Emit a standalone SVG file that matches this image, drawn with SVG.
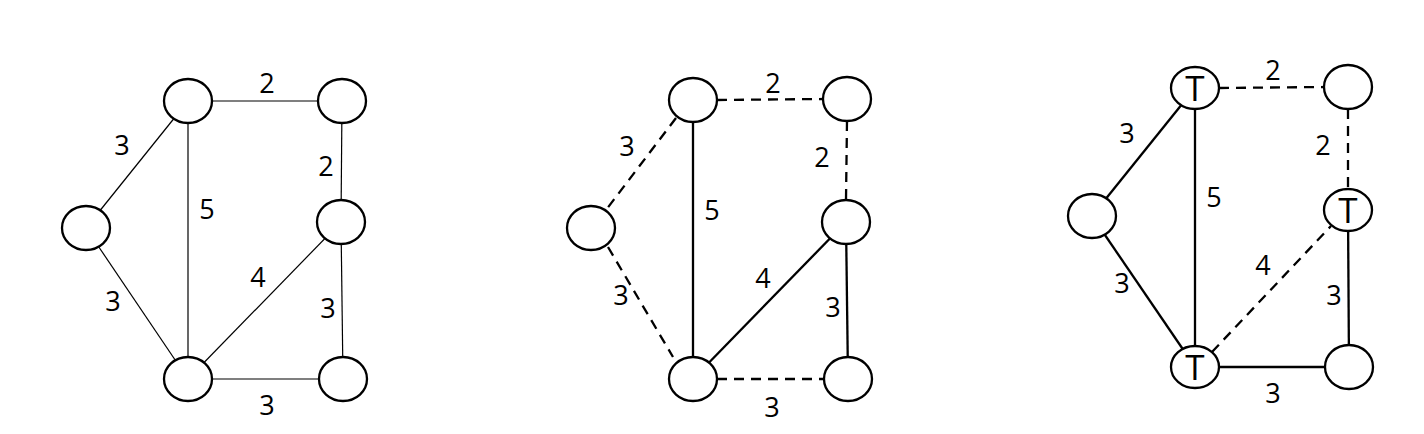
<svg xmlns="http://www.w3.org/2000/svg" width="1424" height="434" viewBox="0 0 1424 434">
<style>
.n{fill:#fff;stroke:#000;stroke-width:2.3}
.e1{stroke:#000;stroke-width:1.2;fill:none}
.e{stroke:#000;stroke-width:2.3;fill:none}
.d{stroke:#000;stroke-width:2.3;fill:none;stroke-dasharray:10,7}
.l{font-family:"Open Sans","Liberation Sans",sans-serif;font-size:27px;fill:#000;text-anchor:middle}
.t{font-family:"Open Sans","Liberation Sans",sans-serif;font-size:35px;fill:#000;text-anchor:middle}
</style>
<rect width="1424" height="434" fill="#fff"/>
<g id="connectors">
<line class="e1" x1="188" y1="101" x2="342" y2="101"/>
<line class="e1" x1="86" y1="228" x2="188" y2="101"/>
<line class="e1" x1="86" y1="228" x2="188" y2="379"/>
<line class="e1" x1="188" y1="101" x2="188" y2="379"/>
<line class="e1" x1="188" y1="379" x2="341" y2="222"/>
<line class="e1" x1="342" y1="101" x2="341" y2="222"/>
<line class="e1" x1="341" y1="222" x2="343" y2="379"/>
<line class="e1" x1="188" y1="379" x2="343" y2="379"/>
<line class="d" x1="717" y1="100" x2="823" y2="99"/>
<line class="d" x1="676" y1="118" x2="606" y2="210"/>
<line class="d" x1="608" y1="247" x2="673" y2="357"/>
<line class="e" x1="693" y1="100" x2="693" y2="379"/>
<line class="e" x1="693" y1="379" x2="846" y2="222"/>
<line class="d" x1="847" y1="121" x2="846" y2="200"/>
<line class="e" x1="846" y1="222" x2="848" y2="379"/>
<line class="d" x1="717" y1="379" x2="824" y2="379"/>
<line class="d" x1="1219" y1="88" x2="1324" y2="87"/>
<line class="e" x1="1092" y1="216" x2="1195" y2="88"/>
<line class="e" x1="1092" y1="216" x2="1195" y2="367"/>
<line class="e" x1="1195" y1="88" x2="1195" y2="367"/>
<line class="d" x1="1212" y1="352" x2="1331" y2="226"/>
<line class="d" x1="1348" y1="109" x2="1348" y2="189"/>
<line class="e" x1="1348" y1="210" x2="1349" y2="367"/>
<line class="e" x1="1195" y1="367" x2="1349" y2="367"/>
</g>
<g id="labels1">
<text class="l" x="267" y="93">2</text>
<text class="l" x="122" y="155">3</text>
<text class="l" x="326" y="176">2</text>
<text class="l" x="207" y="219">5</text>
<text class="l" x="258" y="287">4</text>
<text class="l" x="113" y="311">3</text>
<text class="l" x="328" y="318">3</text>
<text class="l" x="267" y="415">3</text>
</g>
<g id="labels2">
<text class="l" x="773" y="93">2</text>
<text class="l" x="627" y="156">3</text>
<text class="l" x="822" y="167">2</text>
<text class="l" x="712" y="220">5</text>
<text class="l" x="763" y="288">4</text>
<text class="l" x="621" y="305">3</text>
<text class="l" x="833" y="317">3</text>
<text class="l" x="772" y="417">3</text>
</g>
<g id="labels3">
<text class="l" x="1273" y="80">2</text>
<text class="l" x="1127" y="143">3</text>
<text class="l" x="1323" y="155">2</text>
<text class="l" x="1214" y="207">5</text>
<text class="l" x="1263" y="275">4</text>
<text class="l" x="1122" y="293">3</text>
<text class="l" x="1334" y="305">3</text>
<text class="l" x="1273" y="403">3</text>
</g>
<g id="g1a"><ellipse class="n" cx="188" cy="101" rx="24" ry="22"/></g>
<g id="g1b"><ellipse class="n" cx="342" cy="101" rx="24" ry="22"/></g>
<g id="g1c"><ellipse class="n" cx="86" cy="228" rx="24" ry="22"/></g>
<g id="g1d"><ellipse class="n" cx="341" cy="222" rx="24" ry="22"/></g>
<g id="g1e"><ellipse class="n" cx="188" cy="379" rx="24" ry="22"/></g>
<g id="g1f"><ellipse class="n" cx="343" cy="379" rx="24" ry="22"/></g>
<g id="g2a"><ellipse class="n" cx="693" cy="100" rx="24" ry="22"/></g>
<g id="g2b"><ellipse class="n" cx="847" cy="99" rx="24" ry="22"/></g>
<g id="g2c"><ellipse class="n" cx="591" cy="228" rx="24" ry="22"/></g>
<g id="g2d"><ellipse class="n" cx="846" cy="222" rx="24" ry="22"/></g>
<g id="g2e"><ellipse class="n" cx="693" cy="379" rx="24" ry="22"/></g>
<g id="g2f"><ellipse class="n" cx="848" cy="379" rx="24" ry="22"/></g>
<g id="g3a"><ellipse class="n" cx="1195" cy="88" rx="24" ry="21"/><text class="t" x="1195" y="101">T</text></g>
<g id="g3b"><ellipse class="n" cx="1348" cy="87" rx="24" ry="22"/></g>
<g id="g3c"><ellipse class="n" cx="1092" cy="216" rx="24" ry="22"/></g>
<g id="g3d"><ellipse class="n" cx="1348" cy="210" rx="24" ry="21"/><text class="t" x="1348" y="223">T</text></g>
<g id="g3e"><ellipse class="n" cx="1195" cy="367" rx="24" ry="21"/><text class="t" x="1195" y="380">T</text></g>
<g id="g3f"><ellipse class="n" cx="1349" cy="367" rx="24" ry="22"/></g>
</svg>
